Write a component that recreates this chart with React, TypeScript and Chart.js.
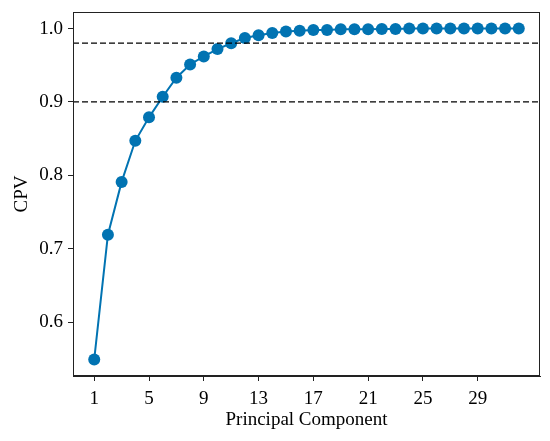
import React, { useEffect, useRef } from "react";
import { Chart, registerables } from "chart.js";

Chart.register(...registerables);

const components: number[] = Array.from({ length: 32 }, (_, i) => i + 1);
const cpv: number[] = [
  0.549, 0.719, 0.791, 0.847, 0.879, 0.907, 0.933, 0.951, 0.962, 0.972,
  0.980, 0.987, 0.991, 0.994, 0.996, 0.997, 0.998, 0.998, 0.999, 0.999,
  0.999, 0.9995, 0.9995, 1.0, 1.0, 1.0, 1.0, 1.0, 1.0, 1.0, 1.0, 1.0,
];
const thresholds: number[] = [0.98, 0.9];
const xTicks: number[] = [1, 5, 9, 13, 17, 21, 25, 29];
const yTicks: number[] = [0.6, 0.7, 0.8, 0.9, 1.0];

const FONT = "'Liberation Serif', 'DejaVu Serif', serif";
const BLUE = "#0173b2";
const FS = 19;

export default function App() {
  const ref = useRef<HTMLCanvasElement | null>(null);

  useEffect(() => {
    document.body.style.margin = "0";
    const canvas = ref.current;
    if (!canvas) return;

    const span = components[components.length - 1] - components[0];
    const xMin = components[0] - 0.05 * span;
    const xMax = components[components.length - 1] + 0.05 * span;
    const yLo = Math.min(...cpv);
    const yHi = Math.max(...cpv);
    const yMin = yLo - 0.05 * (yHi - yLo);
    const yMax = yHi + 0.05 * (yHi - yLo);

    const framePlugin = {
      id: "frameAndLines",
      afterDatasetsDraw(chart: any) {
        const { ctx, chartArea, scales } = chart;
        ctx.save();
        ctx.strokeStyle = "#000";
        ctx.lineWidth = 1.3;
        ctx.setLineDash([6, 3]);
        thresholds.forEach((t) => {
          const y = scales.y.getPixelForValue(t);
          ctx.beginPath();
          ctx.moveTo(chartArea.left, y);
          ctx.lineTo(chartArea.right, y);
          ctx.stroke();
        });
        ctx.setLineDash([]);
        ctx.strokeStyle = "#222";
        ctx.lineWidth = 1;
        ctx.strokeRect(chartArea.left + 0.5, chartArea.top + 0.5, chartArea.right - chartArea.left - 1, chartArea.bottom - chartArea.top - 1);
        ctx.restore();
      },
    };

    const chart = new Chart(canvas, {
      type: "line",
      data: {
        datasets: [
          {
            data: components.map((c, i) => ({ x: c, y: cpv[i] })),
            borderColor: BLUE,
            backgroundColor: BLUE,
            borderWidth: 2,
            pointRadius: 6,
            pointBorderWidth: 0,
            pointBackgroundColor: BLUE,
            tension: 0,
          },
        ],
      },
      options: {
        animation: false,
        responsive: false,
        maintainAspectRatio: false,
        layout: { padding: { top: 12, right: 10, left: 10, bottom: 10 } },
        plugins: { legend: { display: false }, tooltip: { enabled: false } },
        scales: {
          x: {
            type: "linear",
            min: xMin,
            max: xMax,
            afterBuildTicks: (scale: any) => {
              scale.ticks = xTicks.map((v) => ({ value: v }));
            },
            afterFit: (scale: any) => {
              scale.height = 55;
              scale.paddingLeft = 0;
              scale.paddingRight = 0;
            },
            ticks: {
              color: "#000",
              font: { family: FONT, size: FS },
              padding: 7,
              maxRotation: 0,
              autoSkip: false,
              callback: (v: any) => String(v),
            },
            grid: {
              drawOnChartArea: false,
              drawTicks: true,
              tickLength: 5,
              tickColor: "#222",
            },
            border: { display: true, color: "#222" },
            title: {
              display: true,
              text: "Principal Component",
              color: "#000",
              font: { family: FONT, size: FS },
              padding: { top: 0, bottom: 0 },
            },
          },
          y: {
            type: "linear",
            min: yMin,
            max: yMax,
            afterBuildTicks: (scale: any) => {
              scale.ticks = yTicks.map((v) => ({ value: v }));
            },
            afterFit: (scale: any) => {
              scale.width = 63;
              scale.paddingTop = 0;
              scale.paddingBottom = 0;
            },
            ticks: {
              color: "#000",
              font: { family: FONT, size: FS },
              padding: 5,
              autoSkip: false,
              callback: (v: any) => Number(v).toFixed(1),
            },
            grid: {
              drawOnChartArea: false,
              drawTicks: true,
              tickLength: 5,
              tickColor: "#222",
            },
            border: { display: true, color: "#222" },
            title: {
              display: true,
              text: "CPV",
              color: "#000",
              font: { family: FONT, size: FS },
              padding: { top: 1, bottom: 0 },
            },
          },
        },
      },
      plugins: [framePlugin],
    });

    return () => chart.destroy();
  }, []);

  return (
    <div style={{ width: 550, height: 441, background: "#fff" }}>
      <canvas ref={ref} width={550} height={441} style={{ width: 550, height: 441, display: "block" }} />
    </div>
  );
}
